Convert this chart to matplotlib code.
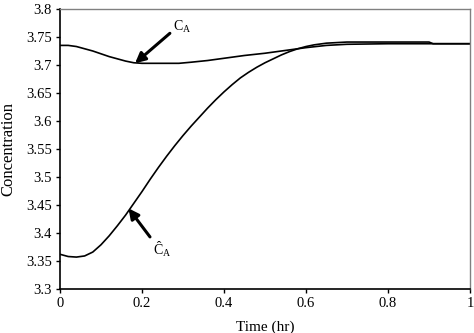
import matplotlib
matplotlib.use("Agg")
import matplotlib.pyplot as plt

plt.rcParams['font.family'] = ['Liberation Serif', 'DejaVu Serif']
plt.rcParams['mathtext.fontset'] = 'custom'
plt.rcParams['mathtext.rm'] = 'Liberation Serif'
plt.rcParams['mathtext.it'] = 'Liberation Serif'

# C_A (actual)
t_ca = [0, 0.02, 0.04, 0.06, 0.08, 0.10, 0.12, 0.14, 0.16, 0.18, 0.20, 0.25, 0.29,
        0.32, 0.36, 0.40, 0.45, 0.50, 0.55, 0.60, 0.65, 0.70, 0.80, 0.90, 1.0]
c_a = [3.735, 3.735, 3.733, 3.729, 3.725, 3.720, 3.715, 3.711, 3.707, 3.704, 3.703, 3.703, 3.703,
       3.705, 3.708, 3.712, 3.717, 3.721, 3.726, 3.731, 3.735, 3.737, 3.738, 3.738, 3.738]

# C_A hat (estimate)
t_hat = [0, 0.02, 0.04, 0.06, 0.08, 0.10, 0.12, 0.14, 0.16, 0.18, 0.20, 0.22, 0.24, 0.26,
         0.28, 0.30, 0.32, 0.34, 0.36, 0.38, 0.40, 0.42, 0.44, 0.46, 0.48, 0.50, 0.52, 0.54,
         0.56, 0.58, 0.60, 0.62, 0.65, 0.70, 0.80, 0.90, 0.91, 1.0]
c_hat = [3.362, 3.358, 3.357, 3.359, 3.366, 3.379, 3.395, 3.413, 3.432, 3.453, 3.474, 3.496,
         3.517, 3.537, 3.556, 3.574, 3.591, 3.607, 3.623, 3.638, 3.652, 3.665, 3.677, 3.687,
         3.696, 3.704, 3.711, 3.718, 3.724, 3.729, 3.733, 3.736, 3.739, 3.741, 3.741, 3.741,
         3.738, 3.738]

x_ticks = [0, 0.2, 0.4, 0.6, 0.8, 1.0]
x_ticklabels = ["0", "0.2", "0.4", "0.6", "0.8", "1"]
y_ticks = [3.3, 3.35, 3.4, 3.45, 3.5, 3.55, 3.6, 3.65, 3.7, 3.75, 3.8]
y_ticklabels = ["3.3", "3.35", "3.4", "3.45", "3.5", "3.55", "3.6", "3.65", "3.7", "3.75", "3.8"]

fig = plt.figure(figsize=(4.74, 3.33), dpi=100)
ax = fig.add_axes([60/474, 1-289/333, 410/474, 280/333])

ax.plot(t_ca, c_a, color='black', lw=1.2)
ax.plot(t_hat, c_hat, color='black', lw=1.2)

ax.set_xlim(0, 1)
ax.set_ylim(3.3, 3.8)
ax.set_xticks(x_ticks)
ax.set_xticklabels(x_ticklabels)
ax.set_yticks(y_ticks)
ax.set_yticklabels(y_ticklabels)
ax.tick_params(direction='out', length=3, width=1, labelsize=10.5, pad=3)

for s in ['left', 'bottom']:
    ax.spines[s].set_color('black')
    ax.spines[s].set_linewidth(1.2)
for s in ['top', 'right']:
    ax.spines[s].set_color('#808080')
    ax.spines[s].set_linewidth(1.0)

ax.set_xlabel("Time (hr)", fontsize=11)
ax.set_ylabel("Concentration", fontsize=12)
ax.xaxis.set_label_coords(0.5, -0.136)
ax.yaxis.set_label_coords(-0.127, 0.5)
ax.xaxis.label.set_va('center')
ax.yaxis.label.set_va('center')

arrow = dict(arrowstyle='-|>,head_length=0.6,head_width=0.3', color='black', lw=2.2,
             shrinkA=0, shrinkB=0)
ax.annotate('', xy=(0.183, 3.703), xytext=(0.268, 3.7566), arrowprops=arrow)
ax.text(0.276, 3.768, r'C$_{\mathregular{A}}$', fontsize=10, va='center', ha='left')

ax.annotate('', xy=(0.167, 3.444), xytext=(0.2195, 3.393), arrowprops=arrow)
ax.text(0.226, 3.372, r'$\mathregular{\hat{C}_A}$', fontsize=10, va='center', ha='left')

fig.savefig("out.png", dpi=100)
